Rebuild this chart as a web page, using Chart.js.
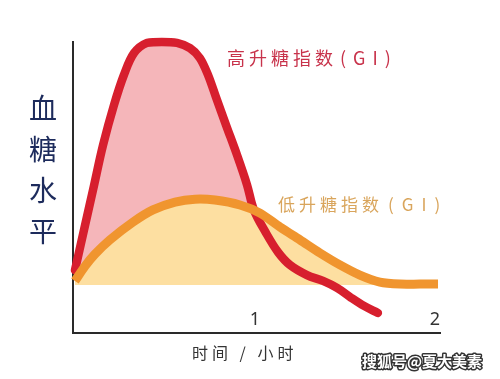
<!DOCTYPE html>
<html><head><meta charset="utf-8">
<script src="https://cdn.jsdelivr.net/npm/chart.js@4.4.1/dist/chart.umd.min.js"></script>
<style>html,body{margin:0;padding:0;background:#fff}#wrap{width:500px;height:379px;position:relative}</style>
</head><body><div id="wrap"><canvas id="c" width="500" height="379"></canvas></div>
<script>
// ---- data (hours after eating, blood-sugar level in arbitrary units 0-100) ----
const redHours  = [0, 0.05, 0.1, 0.156, 0.217, 0.272, 0.328, 0.4, 0.483, 0.567, 0.639, 0.694, 0.739, 0.783, 0.839, 0.9, 0.956, 0.994, 1.061, 1.128, 1.194, 1.289, 1.378, 1.456, 1.528, 1.606, 1.683];
const redLevel  = [21.6, 35.4, 49.1, 64.6, 78.4, 88.7, 96.2, 99.7, 100, 99.7, 97.9, 94.5, 88.7, 81.1, 71.5, 61.2, 50.9, 42.3, 34.4, 27.8, 23.4, 19.9, 17.9, 15.5, 12.4, 9.3, 6.9];
const orangeHours = [0, 0.056, 0.111, 0.194, 0.322, 0.433, 0.556, 0.667, 0.778, 0.917, 1.028, 1.139, 1.25, 1.361, 1.472, 1.583, 1.694, 1.806, 1.917, 2.017];
const orangeLevel = [17.9, 23.0, 27.1, 32.0, 38.1, 42.3, 45.0, 46.0, 45.7, 44.0, 41.2, 36.4, 32.0, 27.5, 23.4, 19.9, 17.5, 16.8, 16.8, 16.8];
const baselineLevel = 16.5;
const tickHours  = [1, 2];
const tickLabels = ['1', '2'];
const highName = '高升糖指数';
const lowName  = '低升糖指数';
const giTag    = '(GI)';
const yTitleChars = ['血', '糖', '水', '平'];
const xTitle = '时间 / 小时';
const watermark = '搜狐号@夏大美素';

const toPoints = (xs, ys) => xs.map((x, i) => ({x, y: ys[i]}));

function drawSpaced(ctx, text, x, y, spacing) {
  for (const ch of text) {
    ctx.fillText(ch, x, y);
    x += ctx.measureText(ch).width + spacing;
  }
}

const textPlugin = {
  id: 'texts',
  afterDraw(chart) {
    const ctx = chart.ctx, xs = chart.scales.x, ys = chart.scales.y;
    ctx.save();
    ctx.textBaseline = 'middle';
    // tick labels inside plot, above the x axis
    ctx.font = '18px "Noto Sans"';
    ctx.fillStyle = '#333';
    ctx.textAlign = 'center';
    tickHours.forEach((h, i) => ctx.fillText(tickLabels[i], xs.getPixelForValue(h), ys.bottom - 13));
    // series labels
    ctx.textAlign = 'left';
    ctx.font = '18px "Noto Sans CJK SC"';
    ctx.fillStyle = '#c8334b';
    drawSpaced(ctx, highName, 227, 58, 4);
    drawSpaced(ctx, giTag, 340, 58, 7);
    ctx.font = '17px "Noto Sans CJK SC"';
    ctx.fillStyle = '#d9a55c';
    drawSpaced(ctx, lowName, 278, 205, 4);
    drawSpaced(ctx, giTag, 388, 205, 8);
    // y title, stacked characters
    ctx.textAlign = 'center';
    ctx.font = '28px "Noto Sans CJK SC"';
    ctx.fillStyle = '#1d2b5c';
    yTitleChars.forEach((ch, i) => ctx.fillText(ch, 43, 108 + i * 41));
    // x title
    ctx.textAlign = 'left';
    ctx.font = '16px "Noto Sans CJK SC"';
    ctx.fillStyle = '#333';
    drawSpaced(ctx, xTitle, 192, 353, 4);
    // watermark
    ctx.font = 'bold 15px "Noto Sans CJK SC"';
    ctx.lineWidth = 3;
    ctx.strokeStyle = '#333';
    ctx.lineJoin = 'round';
    ctx.strokeText(watermark, 362, 361);
    ctx.fillStyle = '#fff';
    ctx.fillText(watermark, 362, 361);
    ctx.restore();
  }
};

new Chart(document.getElementById('c'), {
  type: 'line',
  data: {
    datasets: [
      {
        label: '高升糖指数',
        data: toPoints(redHours, redLevel),
        borderColor: '#d71f2e',
        borderWidth: 8.5,
        backgroundColor: '#f5b6ba',
        fill: {target: {value: baselineLevel}, above: '#f5b6ba', below: 'rgba(0,0,0,0)'},
        pointRadius: 0,
        tension: 0.35,
        borderCapStyle: 'round',
        borderJoinStyle: 'round',
        clip: false,
        order: 2
      },
      {
        label: '低升糖指数',
        data: toPoints(orangeHours, orangeLevel),
        borderColor: '#f0952f',
        borderWidth: 9,
        backgroundColor: '#fddfa1',
        fill: {target: {value: baselineLevel}, above: '#fddfa1', below: 'rgba(0,0,0,0)'},
        pointRadius: 0,
        tension: 0.3,
        borderCapStyle: 'butt',
        borderJoinStyle: 'round',
        clip: false,
        order: 1
      }
    ]
  },
  options: {
    responsive: false,
    animation: false,
    devicePixelRatio: 1,
    layout: {padding: {left: 0, top: 42, right: 60, bottom: 46}},
    plugins: {
      legend: {display: false},
      tooltip: {enabled: false},
      filler: {drawTime: 'beforeDatasetsDraw'}
    },
    scales: {
      x: {
        type: 'linear', min: -0.011, max: 2.028,
        grid: {display: false, drawTicks: false},
        border: {display: true, color: '#2a2a2a', width: 2},
        ticks: {display: false},
        afterFit: s => { s.height = 0; }
      },
      y: {
        type: 'linear', min: 0, max: 100,
        grid: {display: false, drawTicks: false},
        border: {display: true, color: '#2a2a2a', width: 2},
        ticks: {display: false},
        afterFit: s => { s.width = 73; }
      }
    }
  },
  plugins: [textPlugin]
});
</script></body></html>
